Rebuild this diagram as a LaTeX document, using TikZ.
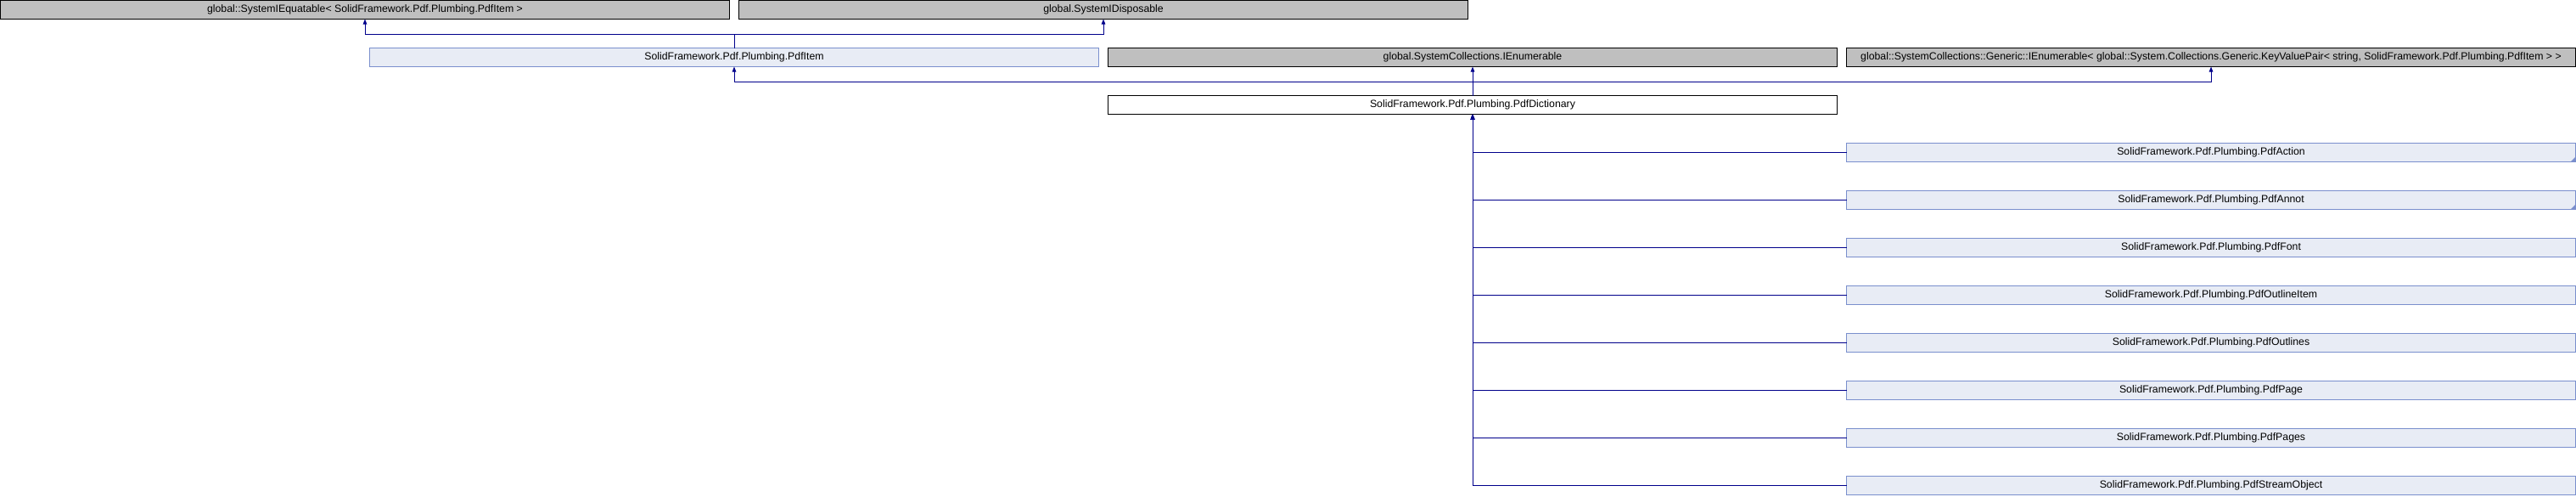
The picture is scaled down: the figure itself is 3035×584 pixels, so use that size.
\documentclass[tikz,border=0pt]{standalone}
\usepackage{fontspec}
\setmainfont{Liberation Sans}
\usetikzlibrary{arrows.meta}
\definecolor{grayfill}{RGB}{191,191,191}
\definecolor{docfill}{RGB}{232,236,245}
\definecolor{docline}{RGB}{122,143,205}
\definecolor{conncol}{RGB}{0,0,139}
\begin{document}
\begin{tikzpicture}[x=1pt,y=-1pt,
  box/.style={draw, line width=1pt, inner sep=0pt, outer sep=0pt,
    minimum width=859pt, minimum height=22pt, anchor=north west,
    font=\fontsize{12.3}{14}\selectfont},
  ext/.style={box, fill=grayfill, draw=black},
  doc/.style={box, fill=docfill, draw=docline},
  cur/.style={box, fill=white, draw=black},
  conn/.style={draw=conncol, line width=1pt},
  tip/.style={-{Triangle[width=4.5pt,length=6pt]}},
  more/.style={fill=docline}]
\useasboundingbox (0,0) rectangle (3035,584);

\node[ext] (eq) at (0.5,0.5) {global::SystemIEquatable< SolidFramework.Pdf.Plumbing.PdfItem >};
\node[ext] (disp) at (870.5,0.5) {global.SystemIDisposable};
\node[doc] (item) at (435.5,56.5) {SolidFramework.Pdf.Plumbing.PdfItem};
\node[ext] (ienum) at (1305.5,56.5) {global.SystemCollections.IEnumerable};
\node[ext] (gen) at (2175.5,56.5) {global::SystemCollections::Generic::IEnumerable< global::System.Collections.Generic.KeyValuePair< string, SolidFramework.Pdf.Plumbing.PdfItem > >};
\node[cur] (dict) at (1305.5,112.5) {SolidFramework.Pdf.Plumbing.PdfDictionary};

\node[doc] (c1) at (2175.5,168.5) {SolidFramework.Pdf.Plumbing.PdfAction};
\node[doc] (c2) at (2175.5,224.5) {SolidFramework.Pdf.Plumbing.PdfAnnot};
\node[doc] (c3) at (2175.5,280.5) {SolidFramework.Pdf.Plumbing.PdfFont};
\node[doc] (c4) at (2175.5,336.5) {SolidFramework.Pdf.Plumbing.PdfOutlineItem};
\node[doc] (c5) at (2175.5,392.5) {SolidFramework.Pdf.Plumbing.PdfOutlines};
\node[doc] (c6) at (2175.5,448.5) {SolidFramework.Pdf.Plumbing.PdfPage};
\node[doc] (c7) at (2175.5,504.5) {SolidFramework.Pdf.Plumbing.PdfPages};
\node[doc] (c8) at (2175.5,560.5) {SolidFramework.Pdf.Plumbing.PdfStreamObject};

\fill[more] (c1.south east) -- ++(-6,0) -- ++(6,-6) -- cycle;
\fill[more] (c2.south east) -- ++(-6,0) -- ++(6,-6) -- cycle;

\draw[conn,tip] (item.north) -- ++(0,-16) -| (eq.south);
\draw[conn,tip] (item.north) -- ++(0,-16) -| (disp.south);
\draw[conn,tip] (dict.north) -- (ienum.south);
\draw[conn,tip] (dict.north) -- ++(0,-16) -| (item.south);
\draw[conn,tip] (dict.north) -- ++(0,-16) -| (gen.south);
\foreach \c in {c1,c2,c3,c4,c5,c6,c7,c8}
  \draw[conn,tip] (\c.west) -| (dict.south);
\end{tikzpicture}
\end{document}
